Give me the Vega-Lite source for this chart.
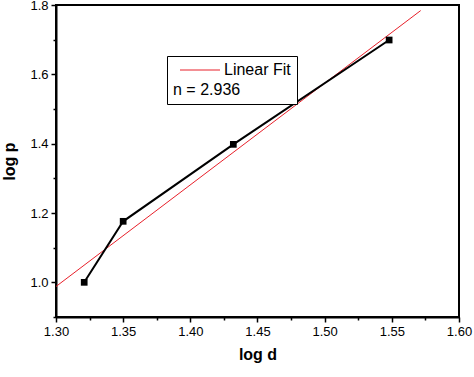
{
  "$schema": "https://vega.github.io/schema/vega-lite/v6.json",
  "autosize": {"type": "none"},
  "width": 403,
  "height": 312,
  "padding": {"left": 56, "top": 5, "right": 15, "bottom": 60},
  "background": "white",
  "config": {
    "view": {"stroke": "black", "strokeWidth": 2},
    "font": "Liberation Sans",
    "axis": {"grid": false, "domainColor": "black", "domainWidth": 2, "tickColor": "black", "tickWidth": 1.5, "labelColor": "black", "titleColor": "black"}
  },
  "datasets": {
    "fit": [
      {"logd": 1.30, "logp": 0.988, "s": "Linear Fit"},
      {"logd": 1.5715, "logp": 1.784, "s": "Linear Fit"}
    ],
    "pts": [
      {"logd": 1.321, "logp": 1.0},
      {"logd": 1.350, "logp": 1.176},
      {"logd": 1.432, "logp": 1.398},
      {"logd": 1.548, "logp": 1.699}
    ]
  },
  "resolve": {"axis": {"x": "independent", "y": "independent"}},
  "layer": [
    {
      "data": {"name": "fit"},
      "mark": {"type": "line", "strokeWidth": 1},
      "encoding": {
        "x": {"field": "logd", "type": "quantitative", "scale": {"domain": [1.3, 1.6], "nice": false, "zero": false},
          "axis": {"orient": "bottom", "title": "log d", "values": [1.3, 1.35, 1.4, 1.45, 1.5, 1.55, 1.6], "format": ".2f", "labelFontSize": 13, "labelPadding": 3, "tickSize": 5, "titleFontSize": 16, "titleFontWeight": "bold", "titlePadding": 8, "labelFlush": false}},
        "y": {"field": "logp", "type": "quantitative", "scale": {"domain": [0.9, 1.8], "nice": false, "zero": false},
          "axis": {"orient": "left", "title": "log p", "values": [1.0, 1.2, 1.4, 1.6, 1.8], "format": ".1f", "labelFontSize": 13, "labelPadding": 3, "tickSize": 5, "titleFontSize": 16, "titleFontWeight": "bold", "titlePadding": 12, "labelFlush": false}},
        "color": {"field": "s", "type": "nominal", "scale": {"range": ["#e8202a"]},
          "legend": {"title": "n = 2.936", "orient": "none", "legendX": 111, "legendY": 51, "strokeColor": "black", "fillColor": "white", "padding": 6, "titleOrient": "bottom", "titleAnchor": "start", "titleFontSize": 16, "titleFontWeight": "normal", "titleColor": "black", "titlePadding": 4, "titleLimit": 300, "labelFontSize": 16, "labelColor": "black", "labelOffset": 16, "symbolType": "M-4,0H4", "symbolSize": 100, "symbolStrokeWidth": 1, "symbolOffset": 19}}
      }
    },
    {
      "data": {"name": "pts"},
      "mark": {"type": "line", "color": "black", "strokeWidth": 2, "point": {"shape": "square", "filled": true, "color": "black", "size": 45}},
      "encoding": {
        "x": {"field": "logd", "type": "quantitative",
          "axis": {"orient": "bottom", "title": null, "values": [1.325, 1.375, 1.425, 1.475, 1.525, 1.575], "labels": false, "domain": false, "tickSize": 3}},
        "y": {"field": "logp", "type": "quantitative",
          "axis": {"orient": "left", "title": null, "values": [0.9, 1.1, 1.3, 1.5, 1.7], "labels": false, "domain": false, "tickSize": 3}}
      }
    }
  ]
}
